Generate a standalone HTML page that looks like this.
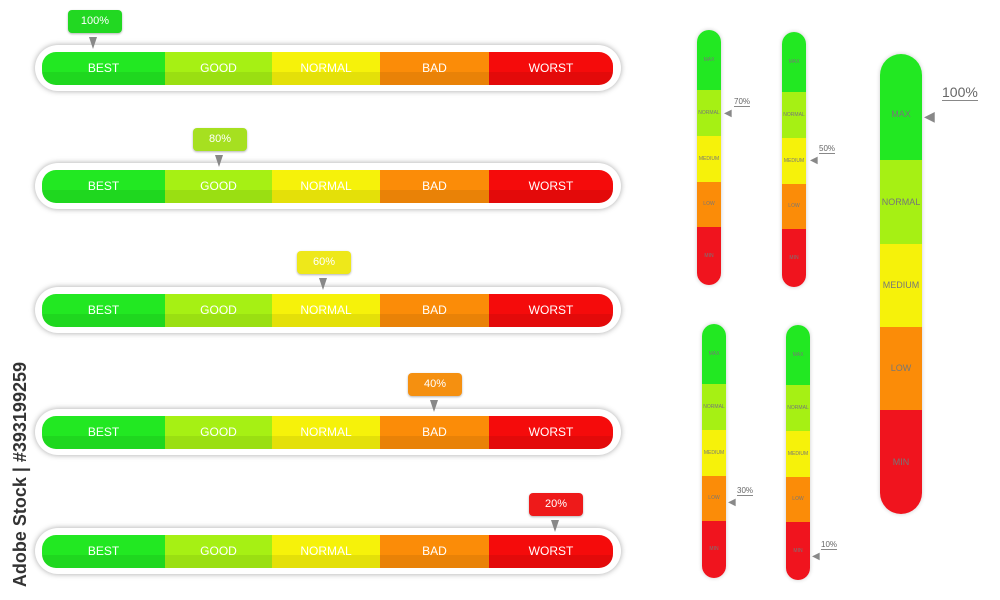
<!DOCTYPE html>
<html style="overflow:hidden"><head><style>
html,body{margin:0;padding:0}
#w{width:1000px;height:600px;background:#fff;position:relative;overflow:hidden;font-family:"Liberation Sans",sans-serif}
.a{position:absolute}
.pill{position:absolute;left:35px;width:586px;height:46px;background:#fff;border-radius:23px;box-shadow:0 0 6px rgba(0,0,0,.35)}
.bar{position:absolute;left:7px;top:7px;width:571px;height:33px;border-radius:14px;overflow:hidden;display:flex}
.bar div{height:100%;color:#fff;font-size:12px;text-align:center;line-height:33px;position:relative}
.bar div:after{content:"";position:absolute;left:0;right:0;bottom:0;height:40%;background:rgba(0,0,0,.07)}
.s1{width:123px;background:#22e822}.s2{width:107px;background:#a6f014}.s3{width:108px;background:#f6f20a}.s4{width:109px;background:#fb8c08}.s5{flex:1;background:#f50b0b}
.tag{position:absolute;width:54px;height:23px;border-radius:4px;color:#fff;font-size:11px;text-align:center;line-height:23px;box-shadow:0 1px 2px rgba(0,0,0,.3)}
.ptr{position:absolute;width:0;height:0;border-left:4px solid transparent;border-right:4px solid transparent;border-top:12px solid #888}
.v{position:absolute;border-radius:12px;overflow:hidden;box-shadow:0 0 4px rgba(0,0,0,.2)}
.v div{position:absolute;left:0;right:0;color:#777;font-size:5px;text-align:center}
.ann{position:absolute;font-size:8px;color:#666;border-bottom:1px solid #888}
.arr{position:absolute;color:#888;font-size:10px}
</style></head><body><div id="w">

<div class="pill" style="top:45px"><div class="bar"><div class="s1">BEST</div><div class="s2">GOOD</div><div class="s3">NORMAL</div><div class="s4">BAD</div><div class="s5">WORST</div></div></div>
<div class="pill" style="top:163px"><div class="bar"><div class="s1">BEST</div><div class="s2">GOOD</div><div class="s3">NORMAL</div><div class="s4">BAD</div><div class="s5">WORST</div></div></div>
<div class="pill" style="top:287px"><div class="bar"><div class="s1">BEST</div><div class="s2">GOOD</div><div class="s3">NORMAL</div><div class="s4">BAD</div><div class="s5">WORST</div></div></div>
<div class="pill" style="top:409px"><div class="bar"><div class="s1">BEST</div><div class="s2">GOOD</div><div class="s3">NORMAL</div><div class="s4">BAD</div><div class="s5">WORST</div></div></div>
<div class="pill" style="top:528px"><div class="bar"><div class="s1">BEST</div><div class="s2">GOOD</div><div class="s3">NORMAL</div><div class="s4">BAD</div><div class="s5">WORST</div></div></div>

<div class="tag" style="left:68px;top:10px;background:#22d822">100%</div><div class="ptr" style="left:89px;top:37px"></div>
<div class="tag" style="left:193px;top:128px;background:#a6e020">80%</div><div class="ptr" style="left:215px;top:155px"></div>
<div class="tag" style="left:297px;top:251px;background:#eee81a">60%</div><div class="ptr" style="left:319px;top:278px"></div>
<div class="tag" style="left:408px;top:373px;background:#f59010">40%</div><div class="ptr" style="left:430px;top:400px"></div>
<div class="tag" style="left:529px;top:493px;background:#ee1a1a">20%</div><div class="ptr" style="left:551px;top:520px"></div>

<div class="v" style="left:697px;top:30px;width:24px;height:255px">
<div style="top:0;height:60px;background:#22e822;line-height:60px">MAX</div>
<div style="top:60px;height:46px;background:#a6f014;line-height:46px">NORMAL</div>
<div style="top:106px;height:46px;background:#f6f20a;line-height:46px">MEDIUM</div>
<div style="top:152px;height:45px;background:#fb8c08;line-height:45px">LOW</div>
<div style="top:197px;height:58px;background:#f0141e;line-height:58px">MIN</div></div>
<div class="v" style="left:782px;top:32px;width:24px;height:255px">
<div style="top:0;height:60px;background:#22e822;line-height:60px">MAX</div>
<div style="top:60px;height:46px;background:#a6f014;line-height:46px">NORMAL</div>
<div style="top:106px;height:46px;background:#f6f20a;line-height:46px">MEDIUM</div>
<div style="top:152px;height:45px;background:#fb8c08;line-height:45px">LOW</div>
<div style="top:197px;height:58px;background:#f0141e;line-height:58px">MIN</div></div>
<div class="v" style="left:702px;top:324px;width:24px;height:254px">
<div style="top:0;height:60px;background:#22e822;line-height:60px">MAX</div>
<div style="top:60px;height:46px;background:#a6f014;line-height:46px">NORMAL</div>
<div style="top:106px;height:46px;background:#f6f20a;line-height:46px">MEDIUM</div>
<div style="top:152px;height:45px;background:#fb8c08;line-height:45px">LOW</div>
<div style="top:197px;height:57px;background:#f0141e;line-height:57px">MIN</div></div>
<div class="v" style="left:786px;top:325px;width:24px;height:255px">
<div style="top:0;height:60px;background:#22e822;line-height:60px">MAX</div>
<div style="top:60px;height:46px;background:#a6f014;line-height:46px">NORMAL</div>
<div style="top:106px;height:46px;background:#f6f20a;line-height:46px">MEDIUM</div>
<div style="top:152px;height:45px;background:#fb8c08;line-height:45px">LOW</div>
<div style="top:197px;height:58px;background:#f0141e;line-height:58px">MIN</div></div>
<div class="v" style="left:880px;top:54px;width:42px;height:460px;border-radius:21px">
<div style="top:0;height:106px;background:#22e822;line-height:120px;font-size:9px">MAX</div>
<div style="top:106px;height:84px;background:#a6f014;line-height:84px;font-size:9px">NORMAL</div>
<div style="top:190px;height:83px;background:#f6f20a;line-height:83px;font-size:9px">MEDIUM</div>
<div style="top:273px;height:83px;background:#fb8c08;line-height:83px;font-size:9px">LOW</div>
<div style="top:356px;height:104px;background:#f0141e;line-height:104px;font-size:9px">MIN</div></div>

<div class="ann" style="left:734px;top:97px">70%</div><div class="arr" style="left:724px;top:108px">◀</div>
<div class="ann" style="left:819px;top:144px">50%</div><div class="arr" style="left:810px;top:155px">◀</div>
<div class="ann" style="left:737px;top:486px">30%</div><div class="arr" style="left:728px;top:497px">◀</div>
<div class="ann" style="left:821px;top:540px">10%</div><div class="arr" style="left:812px;top:551px">◀</div>
<div class="ann" style="left:942px;top:84px;font-size:14px">100%</div><div class="arr" style="left:924px;top:108px;font-size:14px">◀</div>

<div class="a" style="left:9px;top:588px;width:226px;height:22px;text-align:right;transform:rotate(-90deg);transform-origin:0 0;font-size:18px;font-weight:bold;color:#333;white-space:nowrap;line-height:22px">Adobe Stock | #393199259</div>
</div></body></html>
